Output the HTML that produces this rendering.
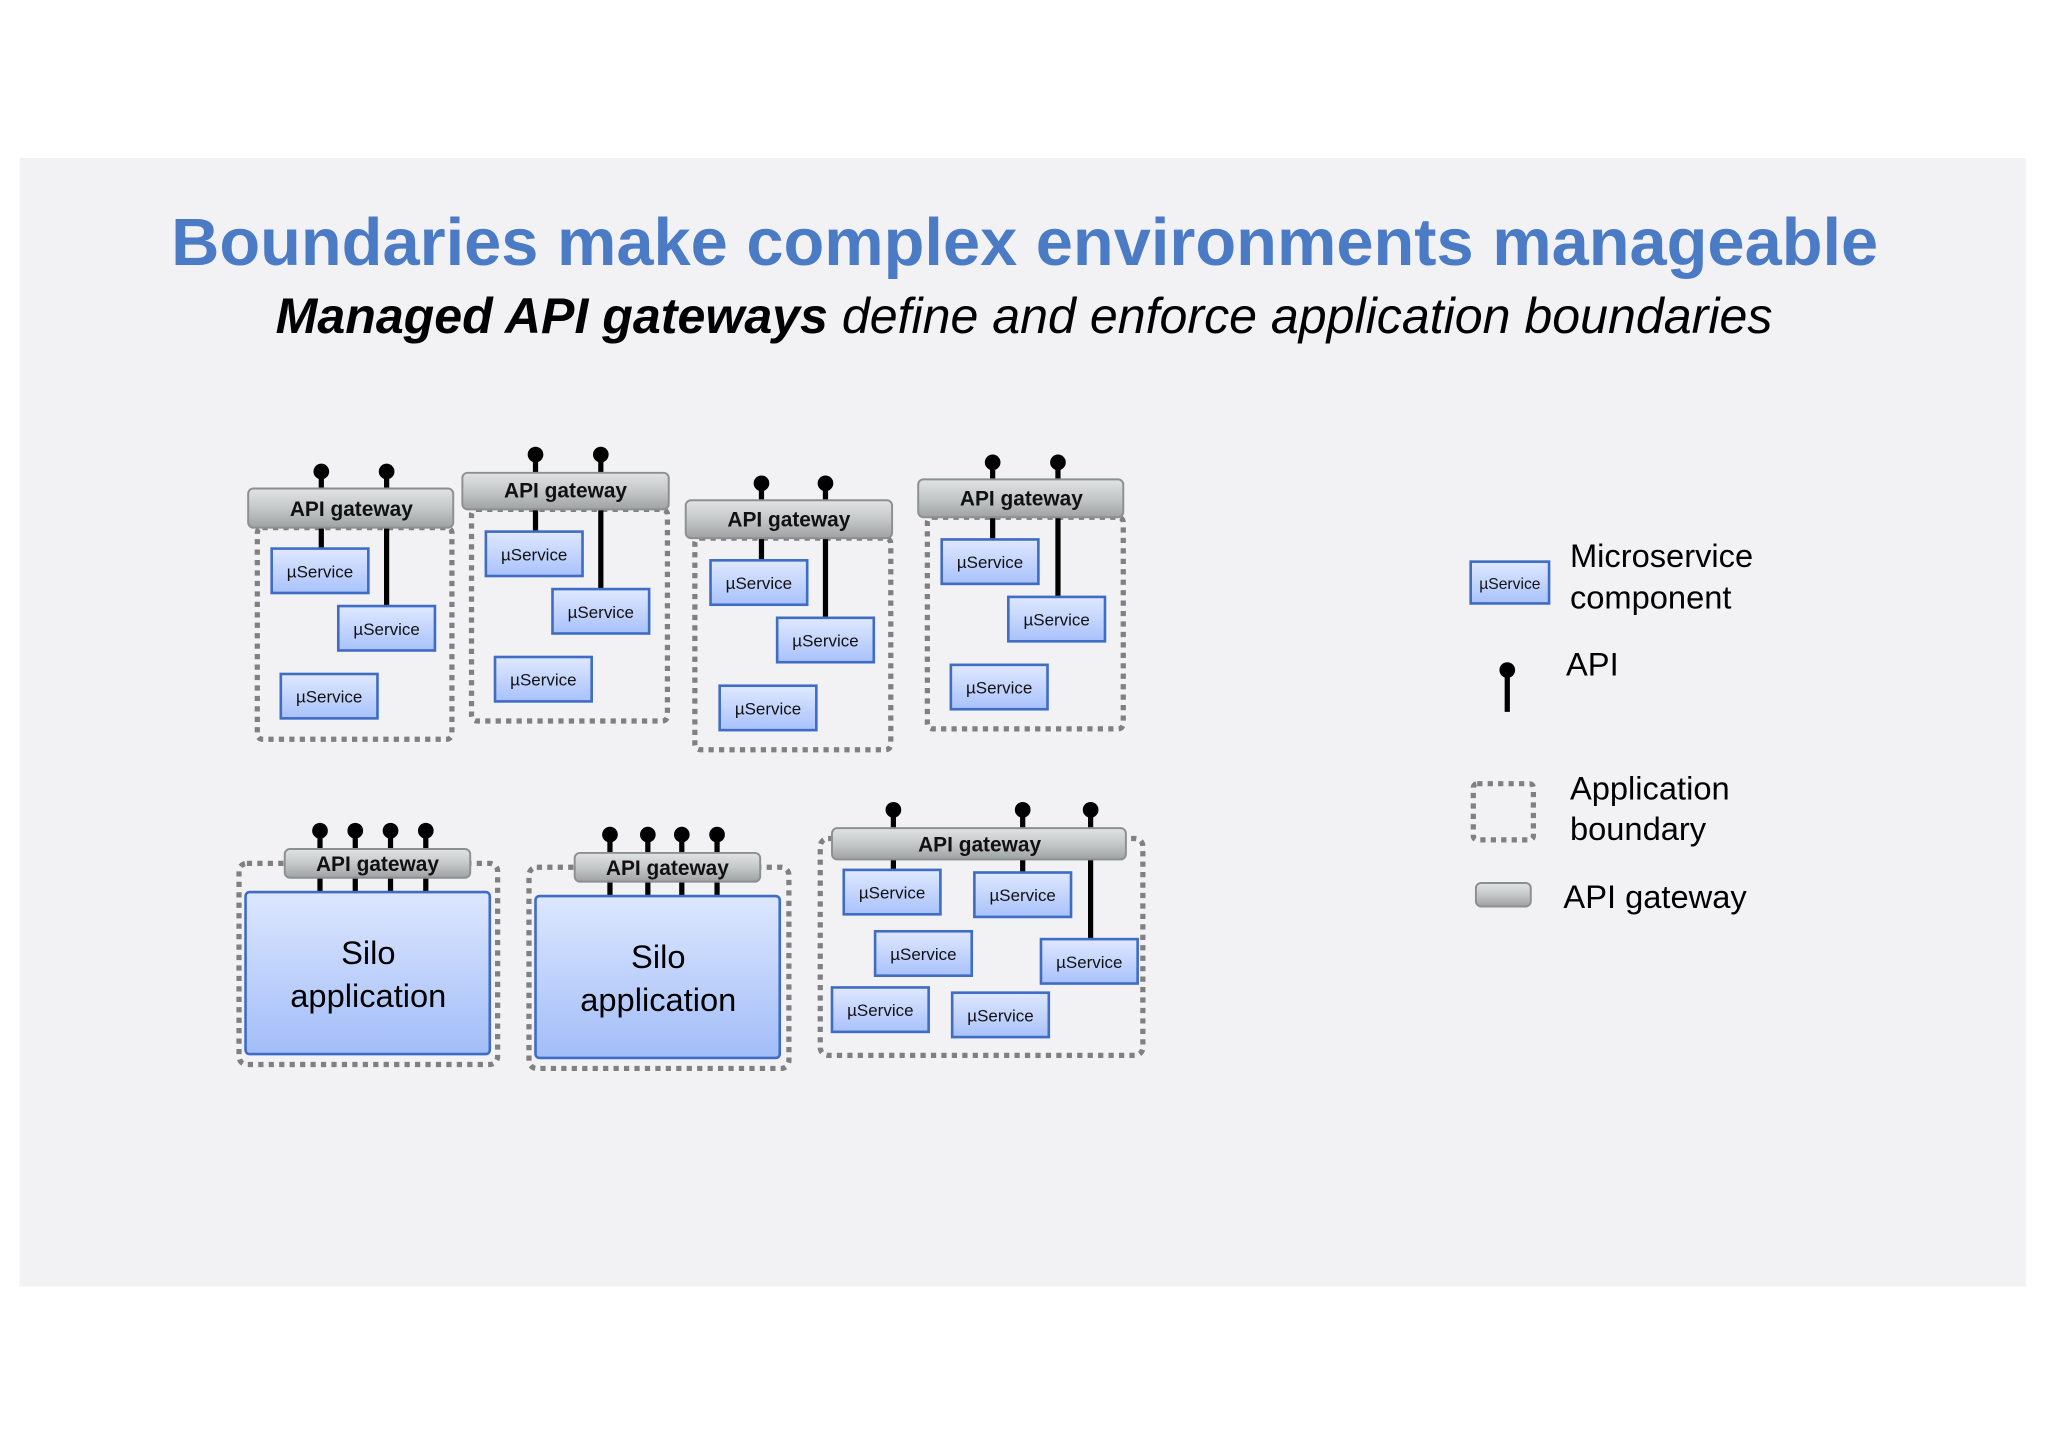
<!DOCTYPE html>
<html><head><meta charset="utf-8"><style>
html,body{margin:0;padding:0;background:#fff;}
svg{display:block;}
text{font-family:"Liberation Sans",Arial,sans-serif;}
</style></head><body>
<svg width="2048" height="1448" viewBox="0 0 1568 1108.6" preserveAspectRatio="none" xmlns="http://www.w3.org/2000/svg">
<defs>
<linearGradient id="gw" x1="0" y1="0" x2="0" y2="1">
<stop offset="0" stop-color="#e2e4e4"/><stop offset="0.5" stop-color="#c4c8c8"/><stop offset="1" stop-color="#9ea2a2"/>
</linearGradient>
<linearGradient id="us" x1="0" y1="0" x2="0" y2="1">
<stop offset="0" stop-color="#dfe8ff"/><stop offset="1" stop-color="#a9c2fb"/>
</linearGradient>
<linearGradient id="silo" x1="0" y1="0" x2="0" y2="1">
<stop offset="0" stop-color="#dde7fe"/><stop offset="1" stop-color="#a2bdf8"/>
</linearGradient>
</defs>
<rect x="0" y="0" width="1568" height="1108.6" fill="#ffffff"/>
<rect x="15" y="121" width="1536" height="864" fill="#f2f2f4"/>
<text x="131" y="203" textLength="1307" lengthAdjust="spacingAndGlyphs" font-size="51" font-weight="bold" fill="#4a7bc4">Boundaries make complex environments manageable</text>
<text x="211" y="255" textLength="1146" lengthAdjust="spacingAndGlyphs" font-size="38" font-style="italic" fill="#000"><tspan font-weight="bold">Managed API gateways</tspan> define and enforce application boundaries</text>

<g id="diagram" stroke-linecap="butt">
<g fill="none" stroke="#808080" stroke-width="4" stroke-dasharray="4 4">
<rect x="197" y="404" width="149" height="162" rx="4"/>
<rect x="361" y="390" width="150" height="162" rx="4"/>
<rect x="532" y="412" width="150" height="162" rx="4"/>
<rect x="710" y="396" width="150" height="162" rx="4"/>
<rect x="183" y="661" width="198" height="154" rx="6"/>
<rect x="405" y="664" width="199" height="154" rx="6"/>
<rect x="628" y="642" width="247" height="166" rx="6"/>
<rect x="1128" y="600" width="46" height="43" rx="3"/>
</g>
<g stroke="#000" stroke-width="4">
<line x1="246" y1="360" x2="246" y2="420"/><line x1="296" y1="360" x2="296" y2="464"/>
<line x1="410" y1="348" x2="410" y2="407"/><line x1="460" y1="348" x2="460" y2="451"/>
<line x1="583" y1="369" x2="583" y2="429"/><line x1="632" y1="369" x2="632" y2="473"/>
<line x1="760" y1="353" x2="760" y2="413"/><line x1="810" y1="353" x2="810" y2="457"/>
<line x1="245" y1="635" x2="245" y2="683"/><line x1="272" y1="635" x2="272" y2="683"/><line x1="299" y1="635" x2="299" y2="683"/><line x1="326" y1="635" x2="326" y2="683"/>
<line x1="467" y1="638" x2="467" y2="686"/><line x1="496" y1="638" x2="496" y2="686"/><line x1="522" y1="638" x2="522" y2="686"/><line x1="549" y1="638" x2="549" y2="686"/>
<line x1="684" y1="620" x2="684" y2="666"/><line x1="783" y1="620" x2="783" y2="668"/><line x1="835" y1="620" x2="835" y2="719"/>
<line x1="1154" y1="512" x2="1154" y2="545"/>
</g>
<g fill="#000">
<circle cx="246" cy="361" r="6"/><circle cx="296" cy="361" r="6"/>
<circle cx="410" cy="348" r="6"/><circle cx="460" cy="348" r="6"/>
<circle cx="583" cy="370" r="6"/><circle cx="632" cy="370" r="6"/>
<circle cx="760" cy="354" r="6"/><circle cx="810" cy="354" r="6"/>
<circle cx="245" cy="636" r="6"/><circle cx="272" cy="636" r="6"/><circle cx="299" cy="636" r="6"/><circle cx="326" cy="636" r="6"/>
<circle cx="467" cy="639" r="6"/><circle cx="496" cy="639" r="6"/><circle cx="522" cy="639" r="6"/><circle cx="549" cy="639" r="6"/>
<circle cx="684" cy="620" r="6"/><circle cx="783" cy="620" r="6"/><circle cx="835" cy="620" r="6"/>
<circle cx="1154" cy="513" r="6"/>
</g>
<g fill="url(#gw)" stroke="#8c9090" stroke-width="1.5">
<rect x="190" y="374" width="157" height="30" rx="4"/>
<rect x="354" y="362" width="158" height="28" rx="4"/>
<rect x="525" y="383" width="158" height="29" rx="4"/>
<rect x="703" y="367" width="157" height="29" rx="4"/>
<rect x="218" y="650" width="142" height="22" rx="4"/>
<rect x="440" y="653" width="142" height="22" rx="4"/>
<rect x="637" y="634" width="225" height="24" rx="4"/>
<rect x="1130" y="676" width="42" height="18" rx="4"/>
</g>
<g font-size="16" font-weight="bold" text-anchor="middle" fill="#111">
<text x="269" y="395">API gateway</text>
<text x="433" y="381">API gateway</text>
<text x="604" y="403">API gateway</text>
<text x="782" y="387">API gateway</text>
<text x="289" y="667">API gateway</text>
<text x="511" y="670">API gateway</text>
<text x="750" y="652">API gateway</text>
</g>
<g fill="url(#silo)" stroke="#3f6cc4" stroke-width="2">
<rect x="188" y="683" width="187" height="124" rx="3"/>
<rect x="410" y="686" width="187" height="124" rx="3"/>
</g>
<g font-size="25" text-anchor="middle" fill="#000">
<text x="282" y="738">Silo</text><text x="282" y="771">application</text>
<text x="504" y="741">Silo</text><text x="504" y="774">application</text>
</g>
<g fill="url(#us)" stroke="#3f6cc4" stroke-width="2">
<rect x="208" y="420" width="74" height="34"/><rect x="259" y="464" width="74" height="34"/><rect x="215" y="516" width="74" height="34"/>
<rect x="372" y="407" width="74" height="34"/><rect x="423" y="451" width="74" height="34"/><rect x="379" y="503" width="74" height="34"/>
<rect x="544" y="429" width="74" height="34"/><rect x="595" y="473" width="74" height="34"/><rect x="551" y="525" width="74" height="34"/>
<rect x="721" y="413" width="74" height="34"/><rect x="772" y="457" width="74" height="34"/><rect x="728" y="509" width="74" height="34"/>
<rect x="646" y="666" width="74" height="34"/><rect x="746" y="668" width="74" height="34"/><rect x="670" y="713" width="74" height="34"/>
<rect x="797" y="719" width="74" height="34"/><rect x="637" y="756" width="74" height="34"/><rect x="729" y="760" width="74" height="34"/>
<rect x="1126" y="430" width="60" height="32"/>
</g>
<g font-size="13" text-anchor="middle" fill="#111">
<text x="245" y="442">µService</text><text x="296" y="486">µService</text><text x="252" y="538">µService</text>
<text x="409" y="429">µService</text><text x="460" y="473">µService</text><text x="416" y="525">µService</text>
<text x="581" y="451">µService</text><text x="632" y="495">µService</text><text x="588" y="547">µService</text>
<text x="758" y="435">µService</text><text x="809" y="479">µService</text><text x="765" y="531">µService</text>
<text x="683" y="688">µService</text><text x="783" y="690">µService</text><text x="707" y="735">µService</text>
<text x="834" y="741">µService</text><text x="674" y="778">µService</text><text x="766" y="782">µService</text>
<text x="1156" y="451" font-size="12">µService</text>
</g>
</g>
<g font-size="25" fill="#000">
<text x="1202" y="434">Microservice</text><text x="1202" y="466">component</text>
<text x="1199" y="517">API</text>
<text x="1202" y="612">Application</text><text x="1202" y="643">boundary</text>
<text x="1197" y="695">API gateway</text>
</g>
</svg>
</body></html>
